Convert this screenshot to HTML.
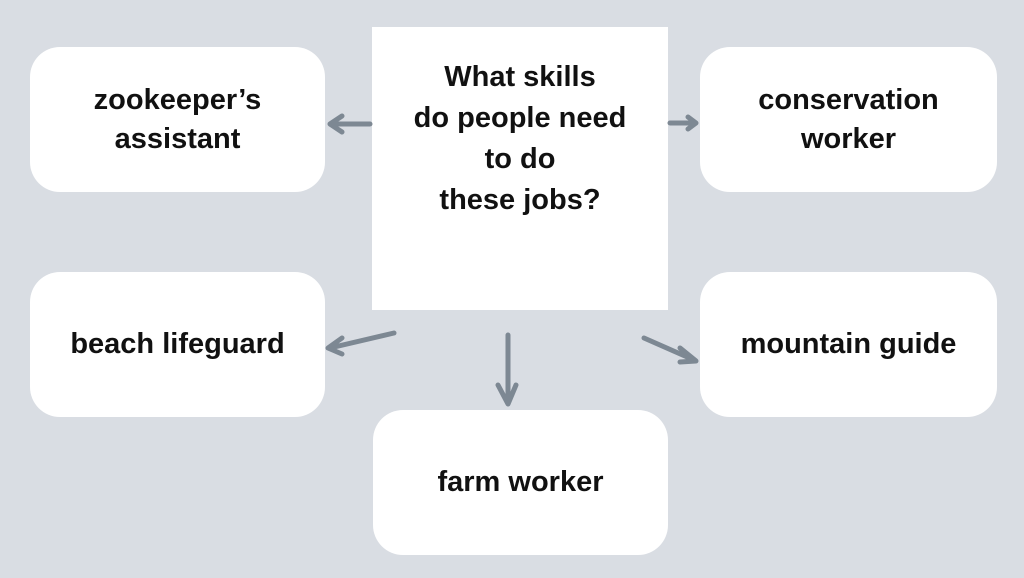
<!DOCTYPE html>
<html><head><style>
body{margin:0;width:1024px;height:578px;background:#d9dde3;position:relative;overflow:hidden;font-family:"Liberation Sans",sans-serif;}
.b{position:absolute;background:#fff;border-radius:30px;display:flex;align-items:center;justify-content:center;text-align:center;font-weight:bold;font-size:29px;line-height:39px;color:#111;}
</style></head><body>
<div class="b" style="left:30px;top:47px;width:295px;height:145px;">zookeeper’s<br>assistant</div>
<div class="b" style="left:700px;top:47px;width:297px;height:145px;">conservation<br>worker</div>
<div class="b" style="left:30px;top:272px;width:295px;height:145px;">beach lifeguard</div>
<div class="b" style="left:700px;top:272px;width:297px;height:145px;">mountain guide</div>
<div class="b" style="left:373px;top:410px;width:295px;height:145px;">farm worker</div>
<div class="b" style="left:372px;top:27px;width:296px;height:283px;border-radius:0;align-items:flex-start;padding-top:30px;line-height:41px;box-sizing:border-box;">What skills<br>do people need<br>to do<br>these jobs?</div>
<svg width="1024" height="578" style="position:absolute;left:0;top:0" fill="none" stroke="#7d8893" stroke-width="5" stroke-linecap="round" stroke-linejoin="round">
<path d="M370 124 H332 M342 116 L330 124 L342 132"/>
<path d="M670 123 H695 M688 117 L696 123 L688 129"/>
<path d="M394 333 L330 348 M342 338 L328 348 L342 354"/>
<path d="M508 335 V402 M498 385 L508 404 L516 385"/>
<path d="M644 338 L694 360 M680 348 L696 361 L680 362"/>
</svg>
</body></html>
